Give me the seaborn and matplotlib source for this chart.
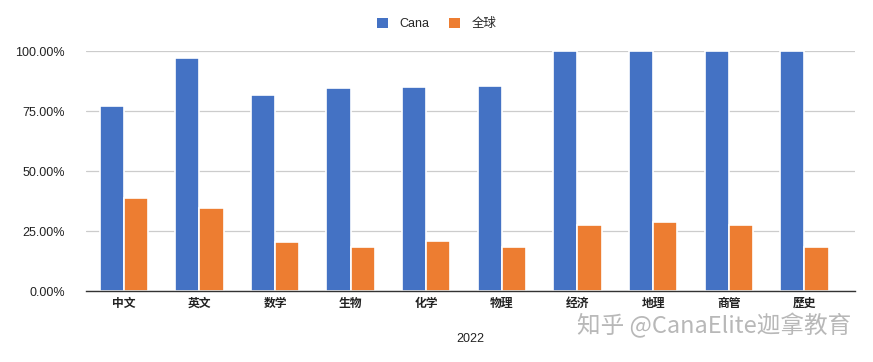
import matplotlib
matplotlib.use("Agg")
import matplotlib.pyplot as plt
import seaborn as sns
import pandas as pd
from matplotlib.patches import Patch
from matplotlib.ticker import FuncFormatter

subjects = ["中文", "英文", "数学", "生物", "化学", "物理", "经济", "地理", "商管", "歷史"]
cana = [0.771, 0.970, 0.817, 0.846, 0.850, 0.854, 1.0, 1.0, 1.0, 1.0]
global_ = [0.3875, 0.344, 0.204, 0.183, 0.208, 0.183, 0.275, 0.2875, 0.275, 0.183]
series_names = ["Cana", "全球"]
colors = ["#4472C4", "#ED7D31"]
xlabel = "2022"
watermark = "知乎 @CanaElite迦拿教育"

sns.set_theme(style="white")
plt.rcParams["font.family"] = ["Liberation Sans", "Noto Sans CJK SC", "DejaVu Sans"]

df = pd.DataFrame({
    "subject": subjects * 2,
    "value": cana + global_,
    "series": [series_names[0]] * len(subjects) + [series_names[1]] * len(subjects),
})

fig = plt.figure(figsize=(8.73, 3.62), dpi=100)
ax = fig.add_axes([86 / 873, 1 - 291 / 362, (855 - 86) / 873, (291 - 51) / 362])

sns.barplot(data=df, x="subject", y="value", hue="series", palette=colors,
            width=0.64, edgecolor="white", linewidth=1.2, ax=ax, legend=False,
            saturation=1)

ax.set_ylim(0, 1)
ax.set_xlim(-0.5, len(subjects) - 0.5 + 0.17)
ax.set_yticks([0, 0.25, 0.5, 0.75, 1.0])
ax.yaxis.set_major_formatter(FuncFormatter(lambda v, p: f"{v * 100:.2f}%"))
ax.grid(axis="y", color="#cccccc", linewidth=0.9)
ax.set_axisbelow(True)
for s in ["top", "right", "left"]:
    ax.spines[s].set_visible(False)
ax.spines["bottom"].set_color("#333333")
ax.spines["bottom"].set_linewidth(1.0)
ax.tick_params(axis="y", length=10, color="#cccccc", width=0.9, pad=5,
               labelsize=9, labelcolor="#222222")
ax.tick_params(axis="x", length=0, pad=4)
for lab in ax.get_xticklabels():
    lab.set_fontfamily(["Noto Sans CJK SC", "DejaVu Sans"])
    lab.set_fontweight("bold")
    lab.set_fontsize(8.5)
    lab.set_color("#222222")
ax.set_xlabel(xlabel, fontsize=9, color="#222222", labelpad=17)
ax.set_ylabel("")

handles = [Patch(facecolor=c, edgecolor="none") for c in colors]
fig.legend(handles, series_names, loc="center", bbox_to_anchor=(0.5, 1 - 24 / 362),
           ncol=2, frameon=False, handlelength=0.9, handleheight=0.9,
           columnspacing=1.6, handletextpad=0.9,
           prop={"family": ["Liberation Sans", "Noto Sans CJK SC"], "size": 9})

fig.text(851 / 873, 1 - 326 / 362, watermark, ha="right", va="center",
         fontsize=17, color="#b8b8b8",
         family=["Noto Sans CJK SC", "DejaVu Sans"])

fig.savefig("out.png", dpi=100, facecolor="white")
